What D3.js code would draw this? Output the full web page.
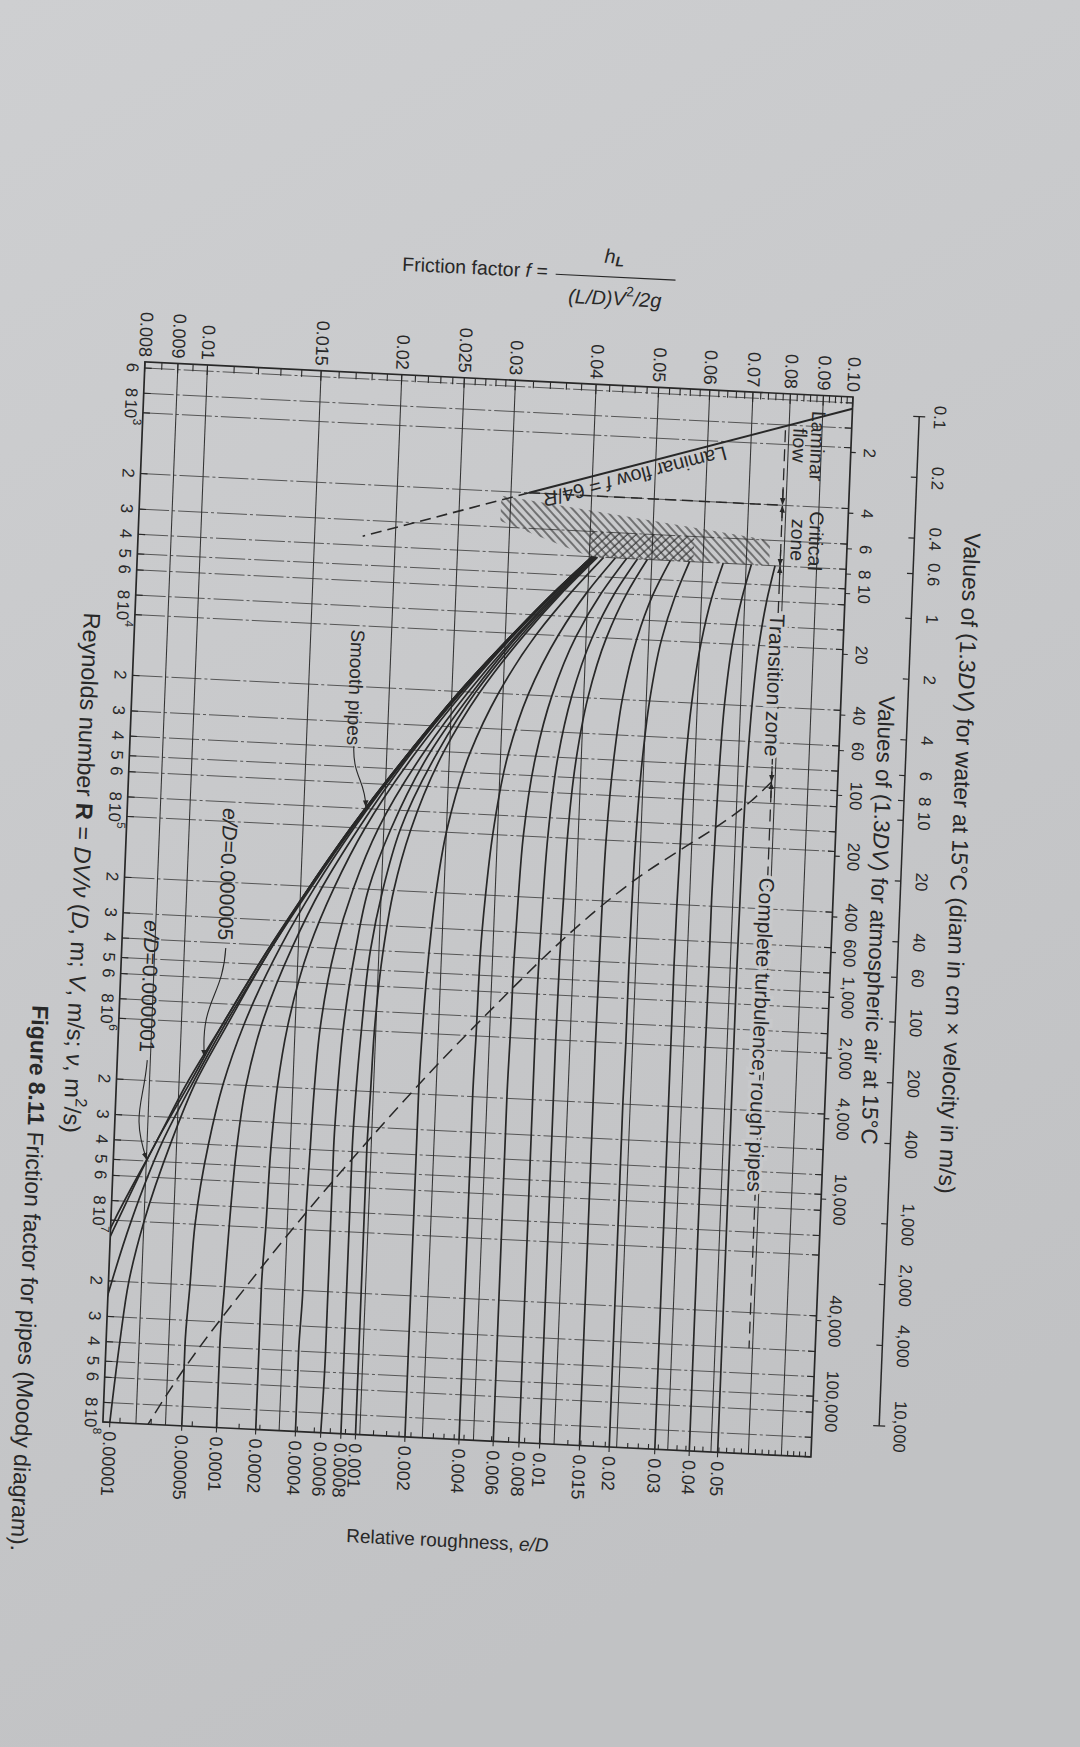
<!DOCTYPE html>
<html><head><meta charset="utf-8">
<script src="https://cdn.jsdelivr.net/npm/d3@7/dist/d3.min.js"></script>
<style>html,body{margin:0;padding:0;background:#c8c9cb;overflow:hidden}svg{display:block}</style>
</head><body>
<svg id="chart" width="1080" height="1747"></svg>
<script>
// ================= DATA =================
const reynoldsGrid = [4e3, 6e3, 1e4, 2e4, 4e4, 1e5, 2e5, 4e5, 1e6, 2e6, 4e6, 1e7, 2e7, 4e7, 1e8];
const f_r05     = [0.0776,0.0757,0.0741,0.0729,0.0723,0.0719,0.0718,0.0717,0.0717,0.0717,0.0717,0.0717,0.0717,0.0717,0.0717];
const f_r04     = [0.0713,0.0692,0.0674,0.0661,0.0655,0.0651,0.0649,0.0649,0.0648,0.0648,0.0648,0.0648,0.0648,0.0648,0.0648];
const f_r03     = [0.0645,0.0622,0.0603,0.0588,0.0580,0.0576,0.0574,0.0573,0.0573,0.0573,0.0573,0.0573,0.0573,0.0573,0.0573];
const f_r02     = [0.0572,0.0546,0.0523,0.0506,0.0497,0.0491,0.0489,0.0488,0.0488,0.0487,0.0487,0.0487,0.0487,0.0487,0.0487];
const f_r015    = [0.0534,0.0504,0.0479,0.0459,0.0449,0.0442,0.0440,0.0439,0.0438,0.0438,0.0438,0.0438,0.0438,0.0438,0.0438];
const f_r01     = [0.0492,0.0459,0.0430,0.0406,0.0393,0.0385,0.0383,0.0381,0.0380,0.0380,0.0380,0.0380,0.0380,0.0380,0.0380];
const f_r008    = [0.0475,0.0440,0.0409,0.0383,0.0368,0.0359,0.0356,0.0354,0.0353,0.0353,0.0353,0.0353,0.0353,0.0353,0.0353];
const f_r006    = [0.0457,0.0420,0.0386,0.0357,0.0340,0.0329,0.0326,0.0324,0.0323,0.0322,0.0322,0.0322,0.0322,0.0322,0.0322];
const f_r004    = [0.0439,0.0399,0.0362,0.0328,0.0308,0.0295,0.0290,0.0287,0.0286,0.0285,0.0285,0.0285,0.0285,0.0285,0.0285];
const f_r002    = [0.0421,0.0378,0.0335,0.0295,0.0269,0.0250,0.0243,0.0239,0.0236,0.0235,0.0235,0.0235,0.0235,0.0235,0.0235];
const f_r001    = [0.0412,0.0367,0.0322,0.0276,0.0245,0.0220,0.0209,0.0203,0.0199,0.0198,0.0197,0.0197,0.0197,0.0197,0.0197];
const f_r0008   = [0.0410,0.0365,0.0319,0.0272,0.0240,0.0212,0.0201,0.0194,0.0190,0.0188,0.0187,0.0187,0.0187,0.0187,0.0187];
const f_r0006   = [0.0409,0.0363,0.0316,0.0269,0.0234,0.0205,0.0191,0.0184,0.0178,0.0176,0.0175,0.0175,0.0175,0.0175,0.0174];
const f_r0004   = [0.0407,0.0361,0.0314,0.0265,0.0229,0.0196,0.0181,0.0171,0.0164,0.0162,0.0161,0.0160,0.0160,0.0159,0.0159];
const f_r0002   = [0.0406,0.0359,0.0311,0.0261,0.0223,0.0187,0.0169,0.0156,0.0146,0.0142,0.0140,0.0139,0.0138,0.0138,0.0138];
const f_r0001   = [0.0405,0.0358,0.0310,0.0259,0.0220,0.0183,0.0162,0.0147,0.0133,0.0127,0.0124,0.0122,0.0121,0.0120,0.0120];
const f_r00005  = [0.0404,0.0357,0.0309,0.0258,0.0219,0.0180,0.0158,0.0141,0.0125,0.0117,0.0112,0.0108,0.0107,0.0106,0.0106];
const f_r00001  = [0.0404,0.0357,0.0309,0.0257,0.0218,0.0179,0.0156,0.0137,0.0118,0.0106,0.0098,0.0090,0.0086,0.0084,0.0082];
const f_r000005 = [0.0404,0.0357,0.0309,0.0257,0.0218,0.0178,0.0155,0.0137,0.0117,0.0105,0.0095,0.0086,0.0081,0.0077,0.0075];
const f_r000001 = [0.0404,0.0357,0.0309,0.0257,0.0218,0.0178,0.0155,0.0136,0.0116,0.0104,0.0093,0.0082,0.0075,0.0070,0.0064];
const f_smooth  = [0.0404,0.0357,0.0309,0.0257,0.0218,0.0178,0.0155,0.0136,0.0116,0.0103,0.0093,0.0081,0.0074,0.0068,0.0060];

const roughnessCurves = [f_r05,f_r04,f_r03,f_r02,f_r015,f_r01,f_r008,f_r006,f_r004,f_r002,f_r001,
  f_r0008,f_r0006,f_r0004,f_r0002,f_r0001,f_r00005,f_r00001,f_r000005,f_r000001,f_smooth];
const roughnessAxisLabels = ["0.05","0.04","0.03","0.02","0.015","0.01","0.008","0.006","0.004","0.002","0.001",
  "0.0008","0.0006","0.0004","0.0002","0.0001","0.00005","0.00001"];

const laminarSolidRe = [640, 2000];
const laminarSolidF  = [0.100, 0.032];
const laminarDashRe  = [2000, 3600];
const laminarDashF   = [0.032, 0.0178];
const criticalRe = 2000;
const criticalF  = [0.032, 0.079];
const turbBoundaryRe = [4.7e4, 5.97e4, 1.61e5, 9.1e5, 3.7e6, 9.7e6, 1.66e7, 5.9e7, 1e8];
const turbBoundaryF  = [0.079, 0.0734, 0.0485, 0.0283, 0.0195, 0.0154, 0.0136, 0.01035, 0.0094];
const critHatchRe = [2100, 3000, 4000, 4000, 2800];
const critHatchF  = [0.029, 0.076, 0.076, 0.040, 0.029];
const critCrossRe = [3000, 3000, 4000, 4000];
const critCrossF  = [0.040, 0.058, 0.058, 0.040];
const zoneLineF = 0.079;
const zoneLineRe = [850, 3.0e7];
const zoneBoundsRe = [2000, 4000, 4.7e4];
const zoneTextRe = [15600, 8.4e5];
const zoneTexts = ["Transition zone", "Complete turbulence, rough pipes"];

const fTickValues = [0.008,0.009,0.01,0.015,0.02,0.025,0.03,0.04,0.05,0.06,0.07,0.08,0.09,0.10];
const fTickLabels = ["0.008","0.009","0.01","0.015","0.02","0.025","0.03","0.04","0.05","0.06","0.07","0.08","0.09","0.10"];
const fGridValues = [0.009,0.01,0.015,0.02,0.025,0.03,0.04,0.05,0.06,0.07,0.08,0.09];
const fMinorTicks = [0.0085,0.0095,0.011,0.012,0.013,0.014,0.016,0.017,0.018,0.019,0.021,0.022,0.023,0.024,
  0.026,0.027,0.028,0.029,0.032,0.034,0.036,0.038,0.042,0.044,0.046,0.048,0.052,0.054,0.056,0.058,
  0.062,0.064,0.066,0.068,0.072,0.074,0.076,0.078,0.082,0.084,0.086,0.088,0.092,0.094,0.096,0.098];
const reTickValues = [6e2,8e2,1e3,2e3,3e3,4e3,5e3,6e3,8e3,1e4,2e4,3e4,4e4,5e4,6e4,8e4,1e5,2e5,3e5,4e5,5e5,6e5,8e5,
  1e6,2e6,3e6,4e6,5e6,6e6,8e6,1e7,2e7,3e7,4e7,5e7,6e7,8e7,1e8];
const reTickLabels = ["6","8","10^3","2","3","4","5","6","8","10^4","2","3","4","5","6","8","10^5","2","3","4","5","6","8",
  "10^6","2","3","4","5","6","8","10^7","2","3","4","5","6","8","10^8"];
const waterValues = [0.1,0.2,0.4,0.6,1,2,4,6,8,10,20,40,60,100,200,400,1000,2000,4000,10000];
const waterLabels = ["0.1","0.2","0.4","0.6","1","2","4","6","8","10","20","40","60","100","200","400","1,000","2,000","4,000","10,000"];
const waterToRe = 6750;
const airValues = [2,4,6,8,10,20,40,60,100,200,400,600,1000,2000,4000,10000,40000,100000];
const airLabels = ["2","4","6","8","10","20","40","60","100","200","400","600","1,000","2,000","4,000","10,000","40,000","100,000"];
const airToRe = 527;

const smoothArrow = [8e4, 0.0187];
const ed5Arrow = [1.5e6, 0.0109];
const ed1Arrow = [5e6, 0.0090];

// ================= DRAWING =================
const INK = '#282828';
const PAPER = '#c8c9cb';
const FONT = "'Liberation Sans', Arial, Helvetica, sans-serif";
const L = 123, R = 832, T = 378, B = 1440;

const svg = d3.select('#chart');
const defs = svg.append('defs');
const grad = defs.append('linearGradient').attr('id','paper').attr('x1','0').attr('y1','0').attr('x2','0.35').attr('y2','1');
grad.append('stop').attr('offset','0%').attr('stop-color','#cecfd1');
grad.append('stop').attr('offset','100%').attr('stop-color','#c1c2c4');
svg.append('rect').attr('width',1080).attr('height',1747).attr('fill','url(#paper)');

defs.append('clipPath').attr('id','plotClip').append('rect')
  .attr('x',L).attr('y',T).attr('width',R-L).attr('height',B-T);
const pA = defs.append('pattern').attr('id','hatchA').attr('patternUnits','userSpaceOnUse')
  .attr('width',6).attr('height',6).attr('patternTransform','rotate(-45)');
pA.append('line').attr('x1',1).attr('y1',0).attr('x2',1).attr('y2',6).attr('stroke',INK).attr('stroke-width',1.1);
const pB = defs.append('pattern').attr('id','hatchB').attr('patternUnits','userSpaceOnUse')
  .attr('width',6).attr('height',6).attr('patternTransform','rotate(45)');
pB.append('line').attr('x1',1).attr('y1',0).attr('x2',1).attr('y2',6).attr('stroke',INK).attr('stroke-width',1.0);
defs.append('marker').attr('id','arrow').attr('viewBox','0 0 10 10').attr('refX',9).attr('refY',5)
  .attr('markerWidth',7).attr('markerHeight',7).attr('markerUnits','userSpaceOnUse').attr('orient','auto')
  .append('path').attr('d','M0,1 L10,5 L0,9 Z').attr('fill',INK);

// the page was photographed slightly skewed: one affine map for the whole figure
const g = svg.append('g').attr('transform','matrix(0.9986,0.0494,-0.0396,0.9981,37.1,-21.4)');

const x = d3.scaleLog().domain([0.008, 0.1]).range([L, R]);
const y = d3.scaleLog().domain([560, 1e8]).range([T, B]);

function txt(parent, px, py, parts, o = {}) {
  const size = o.size || 17;
  const t = parent.append('text')
    .attr('transform', `translate(${px},${py}) rotate(${o.rot === undefined ? 90 : o.rot})`)
    .attr('text-anchor', o.anchor || 'middle')
    .attr('dominant-baseline', o.baseline || 'central')
    .attr('font-size', size).attr('font-family', FONT).attr('fill', INK);
  if (o.knock) t.attr('stroke', PAPER).attr('stroke-width', 7).attr('paint-order', 'stroke');
  let shift = 0;
  (typeof parts === 'string' ? [[parts]] : parts).forEach(p => {
    const s = t.append('tspan').text(p[0]);
    const st = p[1] || '';
    if (st.includes('i')) s.attr('font-style', 'italic');
    if (st.includes('b')) s.attr('font-weight', 'bold');
    let target = 0;
    if (st.includes('sup')) { target = -size * 0.38; s.attr('font-size', size * 0.7); }
    if (st.includes('sub')) { target = size * 0.25; s.attr('font-size', size * 0.7); }
    if (target !== shift) { s.attr('dy', target - shift); shift = target; }
  });
  return t;
}
function reParts(s) {
  if (s.includes('^')) { const [a, b] = s.split('^'); return [[a], [b, 'sup']]; }
  return [[s]];
}

g.append('g').selectAll('line').data(reTickValues.filter(v => v < 1e8)).join('line')
  .attr('x1', L).attr('x2', R).attr('y1', d => y(d)).attr('y2', d => y(d))
  .attr('stroke', '#4b4b4b').attr('stroke-width', 0.9).attr('stroke-dasharray', '30 3 3 3');
g.append('g').selectAll('line').data(fGridValues).join('line')
  .attr('x1', d => x(d)).attr('x2', d => x(d)).attr('y1', T).attr('y2', B)
  .attr('stroke', '#333').attr('stroke-width', 1.05);

const hatchLine = d3.line().x(d => x(d[1])).y(d => y(d[0]));
g.append('path').attr('d', hatchLine(critHatchRe.map((r, i) => [r, critHatchF[i]])) + 'Z')
  .attr('fill', 'url(#hatchA)').attr('stroke', 'none');
g.append('path').attr('d', hatchLine(critCrossRe.map((r, i) => [r, critCrossF[i]])) + 'Z')
  .attr('fill', 'url(#hatchB)').attr('stroke', 'none');

const curveGen = d3.line().x(d => x(d[1])).y(d => y(d[0])).curve(d3.curveMonotoneY);
const cg = g.append('g').attr('clip-path', 'url(#plotClip)');
roughnessCurves.forEach(fs => {
  cg.append('path').attr('d', curveGen(reynoldsGrid.map((r, k) => [r, fs[k]])))
    .attr('fill', 'none').attr('stroke', INK).attr('stroke-width', 1.7);
});

const straight = d3.line().x(d => x(d[1])).y(d => y(d[0]));
g.append('path').attr('d', straight(laminarSolidRe.map((r, i) => [r, laminarSolidF[i]])))
  .attr('fill', 'none').attr('stroke', INK).attr('stroke-width', 2);
g.append('path').attr('d', straight(laminarDashRe.map((r, i) => [r, laminarDashF[i]])))
  .attr('fill', 'none').attr('stroke', INK).attr('stroke-width', 1.6).attr('stroke-dasharray', '11 6');
g.append('line').attr('x1', x(criticalF[0])).attr('x2', x(criticalF[1]))
  .attr('y1', y(criticalRe)).attr('y2', y(criticalRe))
  .attr('stroke', INK).attr('stroke-width', 1.5).attr('stroke-dasharray', '11 6');

g.append('path').attr('d', curveGen(turbBoundaryRe.map((r, i) => [r, turbBoundaryF[i]])))
  .attr('fill', 'none').attr('stroke', INK).attr('stroke-width', 1.5).attr('stroke-dasharray', '13 7');

const zx = x(zoneLineF);
g.append('line').attr('x1', zx).attr('x2', zx).attr('y1', y(zoneLineRe[0])).attr('y2', y(zoneLineRe[1]))
  .attr('stroke', INK).attr('stroke-width', 1.3).attr('stroke-dasharray', '12 7');
zoneBoundsRe.forEach(r => {
  const yy = y(r);
  g.append('line').attr('x1', zx).attr('x2', zx).attr('y1', yy - 16).attr('y2', yy - 1)
    .attr('stroke', INK).attr('stroke-width', 1.2).attr('marker-end', 'url(#arrow)');
  g.append('line').attr('x1', zx).attr('x2', zx).attr('y1', yy + 16).attr('y2', yy + 1)
    .attr('stroke', INK).attr('stroke-width', 1.2).attr('marker-end', 'url(#arrow)');
});
zoneTexts.forEach((s, i) => txt(g, zx, y(zoneTextRe[i]), s, { size: 21, knock: true }));
txt(g, zx + 33, y(1000), 'Laminar', { size: 19.5 });
txt(g, zx + 15, y(1000), 'flow', { size: 19.5 });
txt(g, zx + 35, y(2950), 'Critical', { size: 19.5 });
txt(g, zx + 17, y(2950), 'zone', { size: 19.5 });

g.append('rect').attr('x', L).attr('y', T).attr('width', R - L).attr('height', B - T)
  .attr('fill', 'none').attr('stroke', INK).attr('stroke-width', 1.7);
const tk = g.append('g').attr('stroke', INK).attr('stroke-width', 1.1);
fTickValues.forEach(v => tk.append('line').attr('x1', x(v)).attr('x2', x(v)).attr('y1', T).attr('y2', T + 10));
fMinorTicks.forEach(v => {
  tk.append('line').attr('x1', x(v)).attr('x2', x(v)).attr('y1', T).attr('y2', T + 7);
  tk.append('line').attr('x1', x(v)).attr('x2', x(v)).attr('y1', B).attr('y2', B - 5);
});
reTickValues.forEach(v => {
  tk.append('line').attr('x1', L).attr('x2', L + 7).attr('y1', y(v)).attr('y2', y(v));
  tk.append('line').attr('x1', R - 7).attr('x2', R).attr('y1', y(v)).attr('y2', y(v));
});
airValues.forEach(v => tk.append('line').attr('x1', R).attr('x2', R + 5).attr('y1', y(v * airToRe)).attr('y2', y(v * airToRe)));

fTickValues.forEach((v, i) => txt(g, x(v), T - 5, fTickLabels[i], { anchor: 'end', size: 18 }));
roughnessAxisLabels.forEach((s, i) => {
  const fs = roughnessCurves[i];
  const xv = x(fs[fs.length - 1]);
  txt(g, xv, B + 9, s, { anchor: 'start', size: 18 });
  tk.append('line').attr('x1', xv).attr('x2', xv).attr('y1', B).attr('y2', B + 5);
});
reTickValues.forEach((v, i) => txt(g, L - 12, y(v), reParts(reTickLabels[i]), { size: 17 }));
airValues.forEach((v, i) => txt(g, R + 19, y(v * airToRe), airLabels[i], { size: 17 }));
const wx = 899;
g.append('line').attr('x1', wx).attr('x2', wx)
  .attr('y1', y(waterValues[0] * waterToRe)).attr('y2', y(waterValues[waterValues.length - 1] * waterToRe))
  .attr('stroke', INK).attr('stroke-width', 1.5);
waterValues.forEach((v, i) => {
  const yy = y(v * waterToRe);
  const end = i === 0 || i === waterValues.length - 1;
  g.append('line').attr('x1', wx - 6).attr('x2', end ? wx + 6 : wx).attr('y1', yy).attr('y2', yy)
    .attr('stroke', INK).attr('stroke-width', 1.2);
  txt(g, wx + 21, yy, waterLabels[i], { size: 17 });
});

txt(g, 957, 839, [['Values of (1.3'], ['DV', 'i'], [') for water at 15°C (diam in cm × velocity in m/s)']], { size: 23 });
txt(g, 878, 900, [['Values of (1.3'], ['DV', 'i'], [') for atmospheric air at 15°C']], { size: 22.5 });
txt(g, 80, 892, [['Reynolds number '], ['R', 'b'], [' = '], ['DV/ν', 'i'], [' ('], ['D', 'i'], [', m; '], ['V', 'i'],
  [', m/s; '], ['ν', 'i'], [', m'], ['2', 'sup'], ['/s)']], { size: 23.5 });
txt(g, 472, 1541, [['Relative roughness, '], ['e/D', 'i']], { size: 19, rot: 0 });
txt(g, 522, 267, [['Friction factor '], ['f', 'i'], [' =']], { size: 19.5, rot: 0, anchor: 'end' });
txt(g, 588, 249, [['h', 'i'], ['L', 'i sub']], { size: 20, rot: 0 });
g.append('line').attr('x1', 530).attr('x2', 650).attr('y1', 270).attr('y2', 270).attr('stroke', INK).attr('stroke-width', 1.2);
txt(g, 590, 291, [['(L/D)V', 'i'], ['2', 'sup'], ['/2g', 'i']], { size: 20, rot: 0 });
txt(g, 44, 1300, [['Figure 8.11 ', 'b'], ['Friction factor for pipes (Moody diagram).']], { size: 23 });

{
  const p1 = [x(laminarSolidF[0]), y(laminarSolidRe[0])], p2 = [x(laminarSolidF[1]), y(laminarSolidRe[1])];
  const ang = Math.atan2(p2[1] - p1[1], p2[0] - p1[0]);
  const tf = 0.046, tr = 64 / tf;
  const cx = x(tf) + 11 * Math.sin(ang), cy = y(tr) - 11 * Math.cos(ang);
  txt(g, cx, cy, [['Laminar flow '], ['f', 'i'], [' = 64/'], ['R', 'i']], { size: 20, rot: ang * 180 / Math.PI });
}

txt(g, 347, 693, 'Smooth pipes', { size: 19 });
g.append('path').attr('d', `M347,752 C347,782 360,786 ${x(smoothArrow[1])},${y(smoothArrow[0]) - 2}`)
  .attr('fill', 'none').attr('stroke', INK).attr('stroke-width', 1.1).attr('marker-end', 'url(#arrow)');
txt(g, 227, 886, [['e/D', 'i'], ['=0.000005']], { size: 21 });
g.append('path').attr('d', `M227,960 C226,1010 204,1012 ${x(ed5Arrow[1])},${y(ed5Arrow[0]) - 2}`)
  .attr('fill', 'none').attr('stroke', INK).attr('stroke-width', 1.1).attr('marker-end', 'url(#arrow)');
txt(g, 153, 1002, [['e/D', 'i'], ['=0.000001']], { size: 21 });
g.append('path').attr('d', `M153,1076 C151,1120 139,1130 ${x(ed1Arrow[1])},${y(ed1Arrow[0]) - 2}`)
  .attr('fill', 'none').attr('stroke', INK).attr('stroke-width', 1.1).attr('marker-end', 'url(#arrow)');
</script>
</body></html>
